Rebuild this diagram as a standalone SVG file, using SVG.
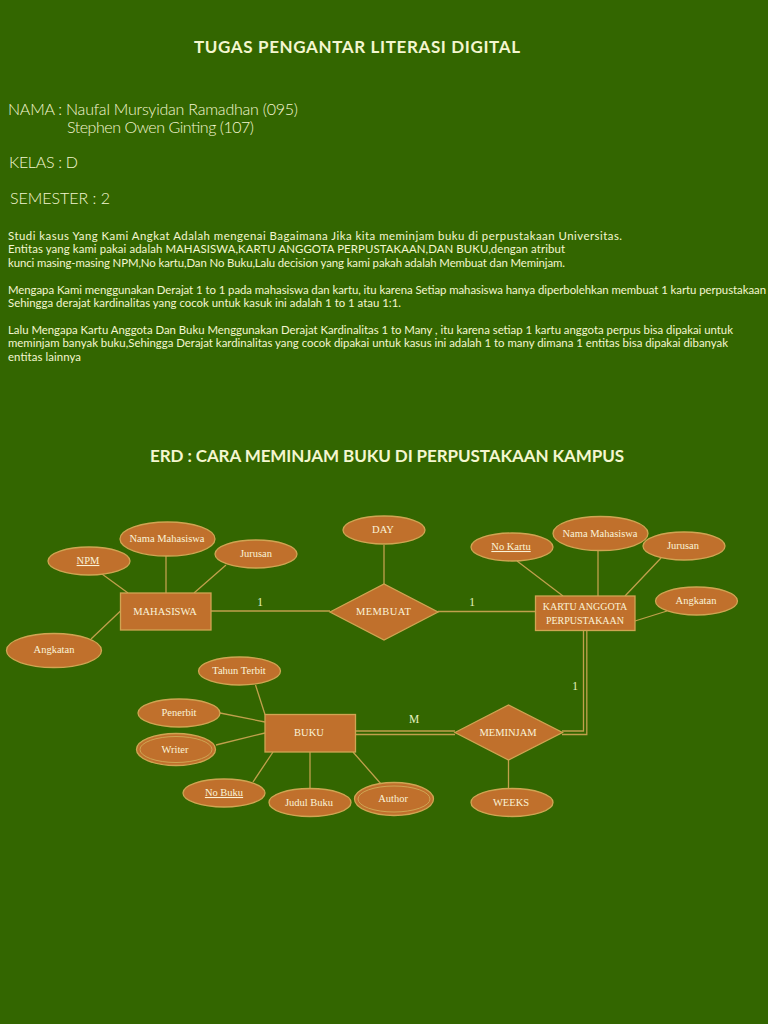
<svg xmlns="http://www.w3.org/2000/svg" width="768" height="1024" viewBox="0 0 768 1024">
<style>
.t{font-family:"Lato","Noto Sans",sans-serif;fill:#f4f6d0}
.h{font-size:17px;font-weight:700}
.m{font-size:16px;font-weight:300}
.p{font-size:11.4px}
.n{font-family:"Liberation Serif","DejaVu Serif",serif;fill:#fbf3d8;font-size:10.5px;text-anchor:middle}
.c{font-family:"Liberation Serif",serif;fill:#e6f2c0;font-size:11.5px;text-anchor:middle}
.s{fill:#c0702c;stroke:#cfa552;stroke-width:1.3}
.i{fill:none;stroke:#cfa552;stroke-width:1}
.l{fill:none;stroke:#c0a04c;stroke-width:1.3}
</style>
<rect width="768" height="1024" fill="#336600"/>
<g id="heading">
<text class="t h" x="194" y="53" textLength="326">TUGAS PENGANTAR LITERASI DIGITAL</text>
<text class="t m" x="8" y="115" textLength="290">NAMA : Naufal Mursyidan Ramadhan (095)</text>
<text class="t m" x="67" y="133" textLength="187">Stephen Owen Ginting (107)</text>
<text class="t m" x="9" y="168" textLength="69">KELAS : D</text>
<text class="t m" x="10" y="204" textLength="100">SEMESTER : 2</text>
</g>
<g id="description">
<text class="t p" x="8" y="240" textLength="614">Studi kasus Yang Kami Angkat Adalah mengenai Bagaimana Jika kita meminjam buku di perpustakaan Universitas.</text>
<text class="t p" x="8" y="253" textLength="557">Entitas yang kami pakai adalah MAHASISWA,KARTU ANGGOTA PERPUSTAKAAN,DAN BUKU,dengan  atribut</text>
<text class="t p" x="8" y="267" textLength="557">kunci masing-masing NPM,No kartu,Dan No Buku,Lalu decision yang kami pakah adalah Membuat dan Meminjam.</text>
<text class="t p" x="8" y="294" textLength="758">Mengapa Kami menggunakan Derajat 1 to 1 pada mahasiswa dan kartu, itu karena Setiap mahasiswa hanya diperbolehkan membuat 1 kartu perpustakaan</text>
<text class="t p" x="8" y="307" textLength="393">Sehingga derajat kardinalitas yang cocok untuk kasuk ini adalah 1 to 1 atau 1:1.</text>
<text class="t p" x="8" y="334" textLength="725">Lalu Mengapa Kartu Anggota Dan Buku Menggunakan Derajat  Kardinalitas 1 to Many , itu karena setiap 1 kartu anggota perpus bisa dipakai untuk</text>
<text class="t p" x="8" y="347" textLength="720">meminjam banyak buku,Sehingga Derajat kardinalitas yang cocok dipakai untuk kasus ini adalah 1 to many dimana 1 entitas bisa dipakai dibanyak</text>
<text class="t p" x="8" y="361" textLength="73">entitas lainnya</text>
<text class="t h" x="150" y="462" textLength="474">ERD : CARA MEMINJAM BUKU DI PERPUSTAKAAN KAMPUS</text>
</g>
<g id="connectors">
<path class="l" d="M102 574L128 593M166 556V593M226 565L194 593M91 639L120.500 611M211 611H330M384 545V584M438 611.500H535.500M517 561L563 596M598 551V596M661 558L625 596M667 611L635 621M255.500 685L265 714.500M220 713L265 722M216 745L265 733M253 782L273 752M310 752V789M353 752L381 784M508.500 760V789"/>
<path class="l" d="M355.500 731H455M355.500 734.500H455M583.500 630.500V731H562M586.800 630.500V734.500H562"/>
<text class="c" x="260" y="606">1</text>
<text class="c" x="472" y="606">1</text>
<text class="c" x="575" y="690">1</text>
<text class="c" x="414" y="723">M</text>
</g>
<g id="mahasiswa"><rect class="s" x="120.500" y="593" width="90.500" height="37"/><text class="n" x="165" y="615">MAHASISWA</text></g>
<g id="npm"><ellipse class="s" cx="89" cy="561" rx="41" ry="14"/><text class="n" x="88" y="564" text-decoration="underline">NPM</text></g>
<g id="nama-mahasiswa-1"><ellipse class="s" cx="167.500" cy="539" rx="47.500" ry="17"/><text class="n" x="167" y="542">Nama Mahasiswa</text></g>
<g id="jurusan-1"><ellipse class="s" cx="256" cy="554" rx="41" ry="14"/><text class="n" x="256" y="557">Jurusan</text></g>
<g id="angkatan-1"><ellipse class="s" cx="54" cy="650.500" rx="47.500" ry="17"/><text class="n" x="54" y="653">Angkatan</text></g>
<g id="day"><ellipse class="s" cx="384" cy="530" rx="41" ry="14"/><text class="n" x="383" y="533">DAY</text></g>
<g id="membuat"><polygon class="s" points="330,612 384,584 438,612 384,640"/><text class="n" x="383.500" y="615" textLength="55">MEMBUAT</text></g>
<g id="kartu"><rect class="s" x="535.500" y="596" width="99.500" height="34.500"/><text class="n" style="font-size:10px" x="585" y="610">KARTU ANGGOTA</text><text class="n" style="font-size:10px" x="585" y="624">PERPUSTAKAAN</text></g>
<g id="no-kartu"><ellipse class="s" cx="512" cy="547" rx="41" ry="14"/><text class="n" x="511" y="550" text-decoration="underline">No Kartu</text></g>
<g id="nama-mahasiswa-2"><ellipse class="s" cx="600.500" cy="533.500" rx="47.500" ry="17"/><text class="n" x="600" y="536.500">Nama Mahasiswa</text></g>
<g id="jurusan-2"><ellipse class="s" cx="684" cy="546" rx="41" ry="14"/><text class="n" x="683" y="549">Jurusan</text></g>
<g id="angkatan-2"><ellipse class="s" cx="696.500" cy="601" rx="41" ry="14"/><text class="n" x="696" y="604">Angkatan</text></g>
<g id="buku"><rect class="s" x="265" y="714.500" width="90.500" height="37.500"/><text class="n" x="309" y="736">BUKU</text></g>
<g id="tahun-terbit"><ellipse class="s" cx="239.500" cy="671" rx="41" ry="14"/><text class="n" x="239" y="674">Tahun Terbit</text></g>
<g id="penerbit"><ellipse class="s" cx="179" cy="713" rx="41" ry="14"/><text class="n" x="179" y="716">Penerbit</text></g>
<g id="writer"><ellipse class="s" cx="176" cy="749.500" rx="39.500" ry="16"/><ellipse class="i" cx="176" cy="749.500" rx="36" ry="13"/><text class="n" x="175" y="752.500">Writer</text></g>
<g id="no-buku"><ellipse class="s" cx="224" cy="793" rx="41" ry="14"/><text class="n" x="224" y="796" text-decoration="underline">No Buku</text></g>
<g id="judul-buku"><ellipse class="s" cx="310" cy="802.500" rx="41" ry="14"/><text class="n" x="309" y="805.500">Judul Buku</text></g>
<g id="author"><ellipse class="s" cx="394" cy="799" rx="39.500" ry="16.500"/><ellipse class="i" cx="394" cy="799" rx="36" ry="13"/><text class="n" x="393" y="802">Author</text></g>
<g id="meminjam"><polygon class="s" points="455,732.500 508.500,705 562.500,732.500 508.500,760"/><text class="n" x="508" y="735.500">MEMINJAM</text></g>
<g id="weeks"><ellipse class="s" cx="512" cy="802.500" rx="41" ry="14"/><text class="n" x="511" y="805.500">WEEKS</text></g>
</svg>
